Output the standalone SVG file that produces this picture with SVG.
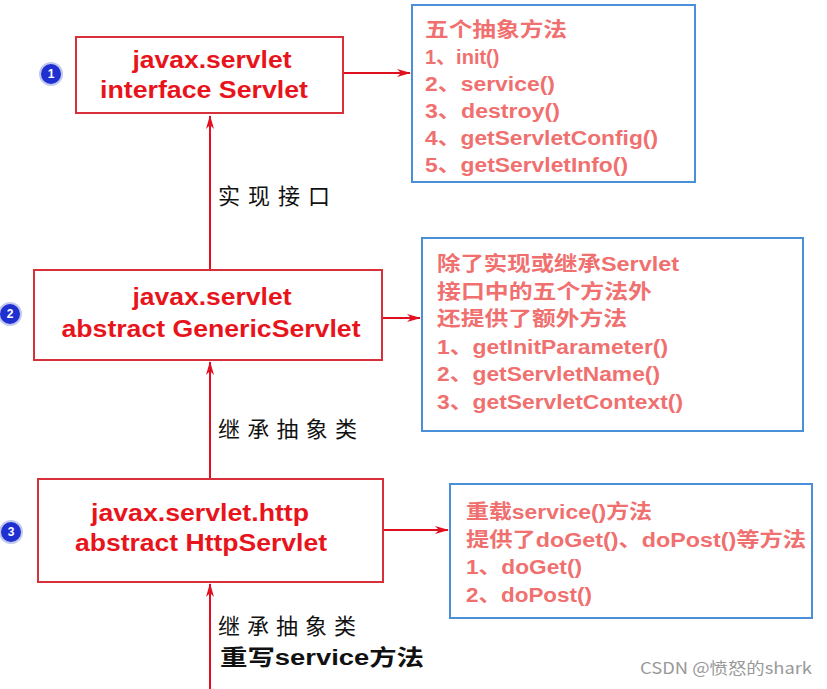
<svg xmlns="http://www.w3.org/2000/svg" width="827" height="689" viewBox="0 0 827 689">
<style>
.nb{fill:#fff;stroke:#d8303a;stroke-width:2}
.ib{fill:#fff;stroke:#4a90d9;stroke-width:2}
.nt{font:bold 23px "Liberation Sans","Noto Sans CJK SC",sans-serif;fill:#e8141c;text-anchor:middle}
.it{font:bold 20px "Liberation Sans","Noto Sans CJK SC",sans-serif;fill:#f07070}
.lb{font:22px "Noto Sans CJK SC",sans-serif;fill:#111}
.lbb{font:bold 22px "Liberation Sans","Noto Sans CJK SC",sans-serif;fill:#111}
.ln{stroke:#e01020;stroke-width:2;fill:none}
.cn{fill:#1f2fd0;stroke:#c0c8f0;stroke-width:2}
.ct{font:bold 12px "Liberation Sans",sans-serif;fill:#fff;text-anchor:middle}
</style>
<defs><marker id="a" markerWidth="14" markerHeight="10" refX="13" refY="5" orient="auto" markerUnits="userSpaceOnUse"><path d="M0,1 L14,5 L0,9 L4,5z" fill="#e01020"/></marker></defs>
<rect width="827" height="689" fill="#fff"/>
<g id="connectors">
<line class="ln" x1="210" y1="270" x2="210" y2="116" marker-end="url(#a)"/>
<line class="ln" x1="210" y1="479" x2="210" y2="362" marker-end="url(#a)"/>
<line class="ln" x1="210" y1="689" x2="210" y2="584" marker-end="url(#a)"/>
<line class="ln" x1="343" y1="73" x2="410" y2="73" marker-end="url(#a)"/>
<line class="ln" x1="382" y1="318" x2="420" y2="318" marker-end="url(#a)"/>
<line class="ln" x1="383" y1="530" x2="448" y2="530" marker-end="url(#a)"/>
</g>
<g id="lbl1"><text class="lb" x="218" y="204" textLength="112" lengthAdjust="spacing">实现接口</text></g>
<g id="lbl2"><text class="lb" x="218" y="437" textLength="139" lengthAdjust="spacing">继承抽象类</text></g>
<g id="lbl3"><text class="lb" x="218" y="634" textLength="138" lengthAdjust="spacing">继承抽象类</text><text class="lbb" x="220" y="665" textLength="204" lengthAdjust="spacingAndGlyphs">重写service方法</text></g>
<g id="n1"><rect class="nb" x="76" y="37" width="267" height="76"/><text class="nt" x="212" y="68" textLength="159" lengthAdjust="spacingAndGlyphs">javax.servlet</text><text class="nt" x="204" y="98" textLength="208" lengthAdjust="spacingAndGlyphs">interface Servlet</text></g>
<g id="n2"><rect class="nb" x="34" y="270" width="348" height="90"/><text class="nt" x="212" y="305" textLength="159" lengthAdjust="spacingAndGlyphs">javax.servlet</text><text class="nt" x="211" y="337" textLength="299" lengthAdjust="spacingAndGlyphs">abstract GenericServlet</text></g>
<g id="n3"><rect class="nb" x="38" y="479" width="345" height="103"/><text class="nt" x="200" y="521" textLength="218" lengthAdjust="spacingAndGlyphs">javax.servlet.http</text><text class="nt" x="201" y="551" textLength="252" lengthAdjust="spacingAndGlyphs">abstract HttpServlet</text></g>
<g id="c1"><circle class="cn" cx="51" cy="74" r="11"/><text class="ct" x="51" y="78">1</text></g>
<g id="c2"><circle class="cn" cx="10" cy="314" r="11"/><text class="ct" x="10" y="318">2</text></g>
<g id="c3"><circle class="cn" cx="11" cy="532" r="11"/><text class="ct" x="11" y="536">3</text></g>
<g id="i1"><rect class="ib" x="412" y="5" width="283" height="177"/>
<text class="it" x="425" y="37" textLength="142" lengthAdjust="spacingAndGlyphs">五个抽象方法</text><text class="it" x="425" y="64">1、init()</text><text class="it" x="425" y="91" textLength="130" lengthAdjust="spacingAndGlyphs">2、service()</text><text class="it" x="425" y="118" textLength="135" lengthAdjust="spacingAndGlyphs">3、destroy()</text><text class="it" x="425" y="145" textLength="233" lengthAdjust="spacingAndGlyphs">4、getServletConfig()</text><text class="it" x="425" y="172" textLength="203" lengthAdjust="spacingAndGlyphs">5、getServletInfo()</text></g>
<g id="i2"><rect class="ib" x="422" y="238" width="381" height="193"/>
<text class="it" x="437" y="271" textLength="242" lengthAdjust="spacingAndGlyphs">除了实现或继承Servlet</text><text class="it" x="437" y="299" textLength="215" lengthAdjust="spacingAndGlyphs">接口中的五个方法外</text><text class="it" x="437" y="326" textLength="190" lengthAdjust="spacingAndGlyphs">还提供了额外方法</text><text class="it" x="437" y="354" textLength="231" lengthAdjust="spacingAndGlyphs">1、getInitParameter()</text><text class="it" x="437" y="381" textLength="223" lengthAdjust="spacingAndGlyphs">2、getServletName()</text><text class="it" x="437" y="409" textLength="246" lengthAdjust="spacingAndGlyphs">3、getServletContext()</text></g>
<g id="i3"><rect class="ib" x="450" y="484" width="362" height="134"/>
<text class="it" x="466" y="519" textLength="186" lengthAdjust="spacingAndGlyphs">重载service()方法</text><text class="it" x="466" y="547" textLength="340" lengthAdjust="spacingAndGlyphs">提供了doGet()、doPost()等方法</text><text class="it" x="466" y="574" textLength="116" lengthAdjust="spacingAndGlyphs">1、doGet()</text><text class="it" x="466" y="602" textLength="126" lengthAdjust="spacingAndGlyphs">2、doPost()</text></g>
<text x="640" y="674" textLength="172" lengthAdjust="spacingAndGlyphs" style="font:16px 'Noto Sans CJK SC',sans-serif;fill:#999">CSDN @愤怒的shark</text>
</svg>
